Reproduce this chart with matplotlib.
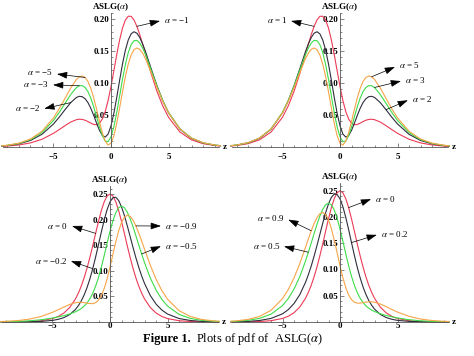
import matplotlib
matplotlib.use("Agg")
import matplotlib.pyplot as plt
from matplotlib.ticker import FixedLocator, MultipleLocator, FormatStrFormatter

plt.rcParams['font.family'] = ['Liberation Serif', 'DejaVu Serif']
plt.rcParams['mathtext.fontset'] = 'stix'

# common z grid of the sampled curves
z = [-9.5, -9, -8, -7, -6, -5, -4.5, -4, -3.5, -3, -2.75, -2.5, -2.25, -2, -1.75, -1.5,
     -1.25, -1, -0.75, -0.5, -0.25, 0, 0.25, 0.5, 0.75, 1, 1.25, 1.5, 1.75, 2, 2.25,
     2.5, 2.75, 3, 3.5, 4, 4.5, 5, 6, 7, 8, 9, 9.5]

# top left: alpha = -1, -2, -3, -5
tl_m1 = [0.0010, 0.0015, 0.0032, 0.0064, 0.0121, 0.0214, 0.0272, 0.0334, 0.0390, 0.0427, 0.0434,
         0.0431, 0.0418, 0.0397, 0.0373, 0.0352, 0.0348, 0.0372, 0.0438, 0.0555, 0.0727, 0.0945,
         0.1192, 0.1444, 0.1673, 0.1858, 0.1984, 0.2043, 0.2042, 0.1985, 0.1885, 0.1756, 0.1608,
         0.1453, 0.1143, 0.0868, 0.0642, 0.0465, 0.0233, 0.0112, 0.0052, 0.0024, 0.0016]
tl_m2 = [0.0016, 0.0024, 0.0050, 0.0102, 0.0199, 0.0360, 0.0466, 0.0583, 0.0694, 0.0775, 0.0792,
         0.0786, 0.0754, 0.0693, 0.0603, 0.0492, 0.0371, 0.0259, 0.0180, 0.0155, 0.0203, 0.0330,
         0.0528, 0.0775, 0.1042, 0.1297, 0.1513, 0.1672, 0.1768, 0.1801, 0.1778, 0.1711, 0.1611,
         0.1491, 0.1220, 0.0955, 0.0724, 0.0535, 0.0277, 0.0136, 0.0064, 0.0029, 0.0020]
tl_m3 = [0.0018, 0.0026, 0.0056, 0.0116, 0.0227, 0.0415, 0.0541, 0.0682, 0.0821, 0.0930, 0.0957,
         0.0959, 0.0930, 0.0864, 0.0761, 0.0625, 0.0469, 0.0311, 0.0177, 0.0093, 0.0083, 0.0158,
         0.0316, 0.0539, 0.0797, 0.1057, 0.1290, 0.1474, 0.1599, 0.1661, 0.1666, 0.1624, 0.1547,
         0.1444, 0.1199, 0.0950, 0.0726, 0.0541, 0.0283, 0.0140, 0.0066, 0.0031, 0.0021]
tl_m5 = [0.0019, 0.0028, 0.0061, 0.0125, 0.0247, 0.0456, 0.0598, 0.0759, 0.0923, 0.1057, 0.1097,
         0.1109, 0.1086, 0.1022, 0.0914, 0.0765, 0.0587, 0.0397, 0.0222, 0.0091, 0.0031, 0.0059,
         0.0177, 0.0370, 0.0610, 0.0863, 0.1101, 0.1296, 0.1438, 0.1521, 0.1547, 0.1525, 0.1465,
         0.1379, 0.1159, 0.0927, 0.0714, 0.0534, 0.0282, 0.0140, 0.0067, 0.0031, 0.0021]

# top right: alpha = 1, 2, 3, 5
tr_p1 = [0.0016, 0.0024, 0.0052, 0.0112, 0.0233, 0.0465, 0.0642, 0.0868, 0.1143, 0.1453, 0.1608,
         0.1756, 0.1885, 0.1985, 0.2042, 0.2043, 0.1984, 0.1858, 0.1673, 0.1444, 0.1192, 0.0945,
         0.0727, 0.0555, 0.0438, 0.0372, 0.0348, 0.0352, 0.0373, 0.0397, 0.0418, 0.0431, 0.0434,
         0.0427, 0.0390, 0.0334, 0.0272, 0.0214, 0.0121, 0.0064, 0.0032, 0.0015, 0.0010]
tr_p2 = [0.0020, 0.0029, 0.0064, 0.0136, 0.0277, 0.0535, 0.0724, 0.0955, 0.1220, 0.1491, 0.1611,
         0.1711, 0.1778, 0.1801, 0.1768, 0.1672, 0.1513, 0.1297, 0.1042, 0.0775, 0.0528, 0.0330,
         0.0203, 0.0155, 0.0180, 0.0259, 0.0371, 0.0492, 0.0603, 0.0693, 0.0754, 0.0786, 0.0792,
         0.0775, 0.0694, 0.0583, 0.0466, 0.0360, 0.0199, 0.0102, 0.0050, 0.0024, 0.0016]
tr_p3 = [0.0021, 0.0031, 0.0066, 0.0140, 0.0283, 0.0541, 0.0726, 0.0950, 0.1199, 0.1444, 0.1547,
         0.1624, 0.1666, 0.1661, 0.1599, 0.1474, 0.1290, 0.1057, 0.0797, 0.0539, 0.0316, 0.0158,
         0.0083, 0.0093, 0.0177, 0.0311, 0.0469, 0.0625, 0.0761, 0.0864, 0.0930, 0.0959, 0.0957,
         0.0930, 0.0821, 0.0682, 0.0541, 0.0415, 0.0227, 0.0116, 0.0056, 0.0026, 0.0018]
tr_p5 = [0.0021, 0.0031, 0.0067, 0.0140, 0.0282, 0.0534, 0.0714, 0.0927, 0.1159, 0.1379, 0.1465,
         0.1525, 0.1547, 0.1521, 0.1438, 0.1296, 0.1101, 0.0863, 0.0610, 0.0370, 0.0177, 0.0059,
         0.0031, 0.0091, 0.0222, 0.0397, 0.0587, 0.0765, 0.0914, 0.1022, 0.1086, 0.1109, 0.1097,
         0.1057, 0.0923, 0.0759, 0.0598, 0.0456, 0.0247, 0.0125, 0.0061, 0.0028, 0.0019]

# bottom left: alpha = 0, -0.2, -0.5, -0.9
bl_0 = [0.0001, 0.0001, 0.0003, 0.0009, 0.0025, 0.0067, 0.0109, 0.0177, 0.0285, 0.0452, 0.0565,
        0.0701, 0.0863, 0.1050, 0.1261, 0.1491, 0.1731, 0.1966, 0.2179, 0.2350, 0.2461, 0.2500,
        0.2461, 0.2350, 0.2179, 0.1966, 0.1731, 0.1491, 0.1261, 0.1050, 0.0863, 0.0701, 0.0565,
        0.0452, 0.0285, 0.0177, 0.0109, 0.0067, 0.0025, 0.0009, 0.0003, 0.0001, 0.0001]
bl_m02 = [0.0001, 0.0001, 0.0002, 0.0005, 0.0012, 0.0031, 0.0052, 0.0086, 0.0146, 0.0246, 0.0319,
          0.0411, 0.0527, 0.0670, 0.0842, 0.1042, 0.1269, 0.1513, 0.1761, 0.1995, 0.2196, 0.2346,
          0.2427, 0.2436, 0.2374, 0.2250, 0.2081, 0.1882, 0.1670, 0.1458, 0.1256, 0.1069, 0.0902,
          0.0755, 0.0519, 0.0351, 0.0235, 0.0156, 0.0068, 0.0029, 0.0012, 0.0005, 0.0003]
bl_m05 = [0.0004, 0.0006, 0.0012, 0.0023, 0.0044, 0.0077, 0.0099, 0.0125, 0.0158, 0.0200, 0.0228,
          0.0264, 0.0310, 0.0372, 0.0454, 0.0561, 0.0700, 0.0871, 0.1074, 0.1301, 0.1540, 0.1772,
          0.1975, 0.2134, 0.2232, 0.2264, 0.2233, 0.2146, 0.2018, 0.1860, 0.1686, 0.1506, 0.1329,
          0.1161, 0.0863, 0.0626, 0.0445, 0.0312, 0.0149, 0.0069, 0.0031, 0.0014, 0.0009]
bl_m09 = [0.0009, 0.0014, 0.0028, 0.0057, 0.0108, 0.0189, 0.0240, 0.0294, 0.0343, 0.0377, 0.0385,
          0.0385, 0.0379, 0.0369, 0.0360, 0.0359, 0.0377, 0.0426, 0.0517, 0.0656, 0.0844, 0.1072,
          0.1319, 0.1563, 0.1778, 0.1943, 0.2047, 0.2085, 0.2063, 0.1990, 0.1877, 0.1738, 0.1583,
          0.1423, 0.1111, 0.0839, 0.0617, 0.0445, 0.0222, 0.0106, 0.0049, 0.0022, 0.0015]

# bottom right: alpha = 0, 0.2, 0.5, 0.9
br_0 = [0.0001, 0.0001, 0.0003, 0.0009, 0.0025, 0.0067, 0.0109, 0.0177, 0.0285, 0.0452, 0.0565,
        0.0701, 0.0863, 0.1050, 0.1261, 0.1491, 0.1731, 0.1966, 0.2179, 0.2350, 0.2461, 0.2500,
        0.2461, 0.2350, 0.2179, 0.1966, 0.1731, 0.1491, 0.1261, 0.1050, 0.0863, 0.0701, 0.0565,
        0.0452, 0.0285, 0.0177, 0.0109, 0.0067, 0.0025, 0.0009, 0.0003, 0.0001, 0.0001]
br_p02 = [0.0003, 0.0005, 0.0012, 0.0029, 0.0068, 0.0156, 0.0235, 0.0351, 0.0519, 0.0755, 0.0902,
          0.1069, 0.1256, 0.1458, 0.1670, 0.1882, 0.2081, 0.2250, 0.2374, 0.2436, 0.2427, 0.2346,
          0.2196, 0.1995, 0.1761, 0.1513, 0.1269, 0.1042, 0.0842, 0.0670, 0.0527, 0.0411, 0.0319,
          0.0246, 0.0146, 0.0086, 0.0052, 0.0031, 0.0012, 0.0005, 0.0002, 0.0001, 0.0001]
br_p05 = [0.0009, 0.0014, 0.0031, 0.0069, 0.0149, 0.0312, 0.0445, 0.0626, 0.0863, 0.1161, 0.1329,
          0.1506, 0.1686, 0.1860, 0.2018, 0.2146, 0.2233, 0.2264, 0.2232, 0.2134, 0.1975, 0.1772,
          0.1540, 0.1301, 0.1074, 0.0871, 0.0700, 0.0561, 0.0454, 0.0372, 0.0310, 0.0264, 0.0228,
          0.0200, 0.0158, 0.0125, 0.0099, 0.0077, 0.0044, 0.0023, 0.0012, 0.0006, 0.0004]
br_p09 = [0.0015, 0.0022, 0.0049, 0.0106, 0.0222, 0.0445, 0.0617, 0.0839, 0.1111, 0.1423, 0.1583,
          0.1738, 0.1877, 0.1990, 0.2063, 0.2085, 0.2047, 0.1943, 0.1778, 0.1563, 0.1319, 0.1072,
          0.0844, 0.0656, 0.0517, 0.0426, 0.0377, 0.0359, 0.0360, 0.0369, 0.0379, 0.0385, 0.0385,
          0.0377, 0.0343, 0.0294, 0.0240, 0.0189, 0.0108, 0.0057, 0.0028, 0.0014, 0.0009]

colors = ['#ec3a55', '#2e2e3e', '#3ddc4a', '#f6a548']

W, H = 474, 356
fig = plt.figure(figsize=(W / 100, H / 100), dpi=100)

XMAX = 9.4
XS = 11.5  # px per unit in x


def make_axes(x0, base, yscale, ymax, yticks, xpad):
    left = x0 - XMAX * XS
    ax = fig.add_axes([left / W, (H - base) / H, 2 * XMAX * XS / W, ymax * yscale / H])
    ax.set_xlim(-XMAX, XMAX)
    ax.set_ylim(0, ymax)
    ax.patch.set_visible(False)
    for s in ['top', 'right']:
        ax.spines[s].set_visible(False)
    ax.spines['left'].set_position(('data', 0))
    for s in ['left', 'bottom']:
        ax.spines[s].set_color('#555555')
        ax.spines[s].set_linewidth(0.6)
    ax.xaxis.set_major_locator(FixedLocator([-5, 0, 5]))
    ax.xaxis.set_minor_locator(MultipleLocator(1))
    ax.yaxis.set_major_locator(FixedLocator(yticks))
    ax.yaxis.set_minor_locator(MultipleLocator(0.01))
    ax.yaxis.set_major_formatter(FormatStrFormatter('%.2f'))
    ax.tick_params(which='both', direction='in', color='#555555', width=0.5)
    ax.tick_params(which='major', length=3)
    ax.tick_params(which='minor', length=1.5)
    ax.tick_params(axis='x', pad=xpad, labelsize=6.5)
    ax.tick_params(axis='y', pad=1.5, labelsize=6.5)
    for lab in ax.get_xticklabels() + ax.get_yticklabels():
        lab.set_fontweight('bold')
    ax.text(0, ymax, r'ASLG($\alpha$)', ha='center', va='bottom', fontsize=6.5,
            fontweight='bold')
    ax.annotate('z', xy=(XMAX, 0), xytext=(3, 0), textcoords='offset points',
                ha='left', va='center', fontsize=6.5, fontweight='bold')
    return ax


panels = [
    (111, 147, 640, 0.21, [0.05, 0.10, 0.15, 0.20], 4, [tl_m1, tl_m2, tl_m3, tl_m5],
     [(r'$\alpha$ = −1', (4.26, 0.197), (4.6, 0.199), 0, 2.25, 'left'),
      (r'$\alpha$ = −5', (-4.7, 0.114), (-5.04, 0.117), 3, -2.25, 'right'),
      (r'$\alpha$ = −3', (-5.04, 0.097), (-5.39, 0.098), 2, -2.75, 'right'),
      (r'$\alpha$ = −2', (-5.8, 0.060), (-6.17, 0.061), 1, -3.5, 'right')]),
    (340, 147, 640, 0.21, [0.05, 0.10, 0.15, 0.20], 4, [tr_p1, tr_p2, tr_p3, tr_p5],
     [(r'$\alpha$ = 1', (-4.26, 0.197), (-4.6, 0.198), 0, -2.25, 'right'),
      (r'$\alpha$ = 5', (4.78, 0.125), (5.13, 0.128), 3, 2.75, 'left'),
      (r'$\alpha$ = 3', (5.3, 0.103), (5.65, 0.105), 2, 3.0, 'left'),
      (r'$\alpha$ = 2', (5.9, 0.073), (6.26, 0.075), 1, 4.0, 'left')]),
    (110, 322, 512, 0.265, [0.05, 0.10, 0.15, 0.20, 0.25], 0, [bl_0, bl_m02, bl_m05, bl_m09],
     [(r'$\alpha$ = 0', (-3.3, 0.1875), (-3.65, 0.1875), 0, -1.25, 'right'),
      (r'$\alpha$ = −0.2', (-3.4, 0.119), (-3.74, 0.119), 1, -1.5, 'right'),
      (r'$\alpha$ = −0.9', (4.43, 0.1875), (4.78, 0.1875), 3, 2.25, 'left'),
      (r'$\alpha$ = −0.5', (4.43, 0.148), (4.78, 0.148), 2, 2.75, 'left')]),
    (340, 322, 525, 0.265, [0.05, 0.10, 0.15, 0.20, 0.25], 0, [br_0, br_p02, br_p05, br_p09],
     [(r'$\alpha$ = 0', (2.7, 0.234), (3.04, 0.234), 0, 0.75, 'left'),
      (r'$\alpha$ = 0.2', (3.2, 0.166), (3.57, 0.168), 1, 1.0, 'left'),
      (r'$\alpha$ = 0.9', (-4.5, 0.195), (-4.87, 0.198), 3, -2.5, 'right'),
      (r'$\alpha$ = 0.5', (-4.87, 0.144), (-5.2, 0.145), 2, -2.75, 'right')]),
]

for x0, base, ysc, ymax, yt, xpad, series, notes in panels:
    ax = make_axes(x0, base, ysc, ymax, yt, xpad)
    for vals, c in zip(series, colors):
        ax.plot(z, vals, color=c, lw=0.8, clip_on=False)
    for text, tip, tpos, si, zt, ha in notes:
        tail = (zt, series[si][z.index(zt)])
        ax.annotate('', xy=tip, xytext=tail,
                    arrowprops=dict(arrowstyle='-|>,head_length=0.9,head_width=0.3',
                                    color='k', lw=0.5, mutation_scale=7,
                                    shrinkA=0, shrinkB=0))
        ax.text(tpos[0], tpos[1], text, ha=ha, va='center', fontsize=6.5)

fig.text(143 / W, (H - 342) / H, 'Figure 1.', fontsize=9, fontweight='bold',
         ha='left', va='baseline')
fig.text(196 / W, (H - 342) / H, r'Plots of pdf of  ASLG($\alpha$)', fontsize=9,
         ha='left', va='baseline')

fig.savefig('out.png', dpi=100)
